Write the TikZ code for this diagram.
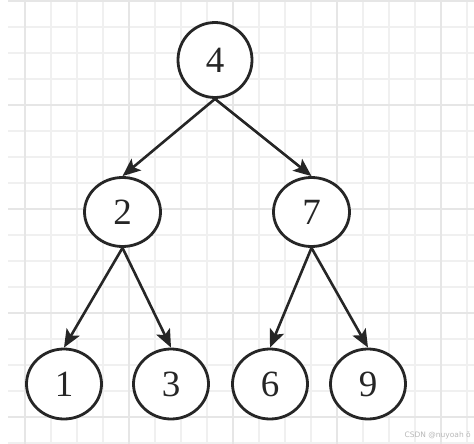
\documentclass[tikz,border=0pt]{standalone}
\usepackage{fontspec}
\setmainfont{Liberation Serif}
\newfontfamily\wmfont{DejaVu Sans}
\usetikzlibrary{arrows.meta,shapes.geometric}
\definecolor{gridminor}{HTML}{F0F0F0}
\definecolor{gridmajor}{HTML}{E6E6E6}
\definecolor{ink}{HTML}{262626}
\tikzset{
  treenode/.style={draw=ink, line width=2.8pt, ellipse, inner sep=0pt, fill=white,
    text=ink, font=\fontsize{37}{40}\selectfont},
  bignode/.style={treenode, minimum width=74pt, minimum height=75pt},
  midnode/.style={treenode, minimum width=76pt, minimum height=69pt},
  leafnode/.style={treenode, minimum width=75pt, minimum height=70pt},
  arr/.style={draw=ink, line width=2.6pt, -{Stealth[length=18pt,width=15pt,inset=4pt]}},
}
\begin{document}
\begin{tikzpicture}[x=1pt,y=-1pt]
\useasboundingbox (0,0) rectangle (474,444);
\fill[white] (0,0) rectangle (474,444);
% grid
\foreach \i in {0,...,17} {
  \pgfmathtruncatemacro{\xx}{25+26*\i}
  \draw[gridminor, line width=1.6pt] (\xx,0) -- (\xx,444);
}
\foreach \i in {0,...,17} {
  \pgfmathtruncatemacro{\yy}{1+26*\i}
  \draw[gridminor, line width=1.6pt] (8,\yy) -- (474,\yy);
}
\foreach \xx in {25,129,233,337,441} \draw[gridmajor, line width=1.8pt] (\xx,0) -- (\xx,444);
\foreach \yy in {1,105,209,313,417} \draw[gridmajor, line width=1.8pt] (8,\yy) -- (474,\yy);
% nodes
\node[bignode] (n4) at (215,60) {4};
\node[midnode] (n2) at (122.5,212) {2};
\node[midnode] (n7) at (311.5,212) {7};
\node[leafnode] (n1) at (64,384) {1};
\node[leafnode] (n3) at (171,384) {3};
\node[leafnode] (n6) at (270,384) {6};
\node[leafnode] (n9) at (368,384) {9};
% edges
\draw[arr] (n4.south) -- (n2.north);
\draw[arr] (n4.south) -- (n7.north);
\draw[arr] (n2.south) -- (n1.north);
\draw[arr] (n2.south) -- (n3.north);
\draw[arr] (n7.south) -- (n6.north);
\draw[arr] (n7.south) -- (n9.north);
% watermark
\node[anchor=east, text=black!28, font=\wmfont\fontsize{7.5}{8}\selectfont, inner sep=0pt] (wm) at (471,435) {CSDN @nuyoah ǒ};
\end{tikzpicture}
\end{document}
